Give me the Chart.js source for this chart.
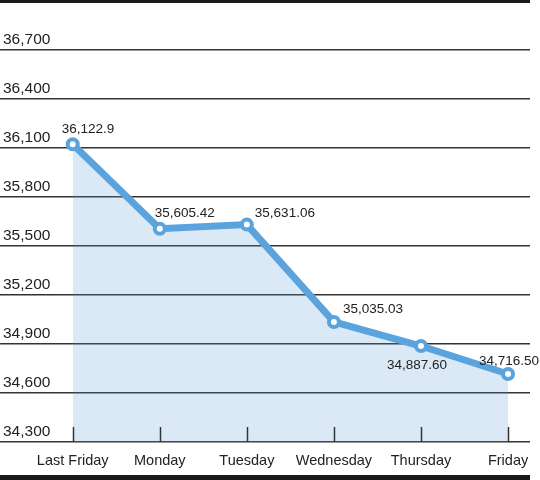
<!DOCTYPE html>
<html lang="en">
<head>
  <meta charset="utf-8">
  <title>Index close</title>
  <style>
    html, body { margin: 0; padding: 0; background: #fff; }
    #chart { display: block; }
  </style>
</head>
<body>

  <canvas id="chart" width="540" height="480"></canvas>

  <script src="https://cdn.jsdelivr.net/npm/chart.js@4/dist/chart.umd.min.js"></script>
  <script>

    // data
    var days = ["Last Friday", "Monday", "Tuesday", "Wednesday", "Thursday", "Friday"];
    var closes = [36122.9, 35605.42, 35631.06, 35035.03, 34887.60, 34716.50];
    var decimals = [1, 2, 2, 2, 2, 2];
    var yMin = 34300, yMax = 36700, yStep = 300;

    // where each value label sits relative to its point (style only)
    var labelShift = [[-11, -15], [-5, -16], [8, -11], [9, -13], [-34, 19], [-29, -13]];

    var font = "'Liberation Sans', Arial, sans-serif";
    var ink = "#222";
    var blue = "#5aa3dc";

    var points = closes.map(function (v, i) { return { x: i, y: v }; });

    // black bars top and bottom, small tick marks on the baseline, value labels
    var decor = {
      id: 'decor',
      beforeDraw: function (chart) {
        var ctx = chart.ctx;
        ctx.save();
        ctx.fillStyle = "#1a1a1a";
        ctx.fillRect(0, 0, 530, 3);
        ctx.fillRect(0, 475, 530, 5);
        ctx.restore();
      },
      afterDatasetsDraw: function (chart) {
        var ctx = chart.ctx;
        var xs = chart.scales.x, ys = chart.scales.y;
        var base = ys.getPixelForValue(yMin);
        ctx.save();
        ctx.strokeStyle = "#333";
        ctx.lineWidth = 1.5;
        days.forEach(function (d, i) {
          var px = Math.round(xs.getPixelForValue(i)) + 0.5;
          ctx.beginPath();
          ctx.moveTo(px, base);
          ctx.lineTo(px, base - 15);
          ctx.stroke();
        });
        ctx.restore();
      },
      afterDraw: function (chart) {
        var ctx = chart.ctx;
        var meta = chart.getDatasetMeta(0);
        ctx.save();
        ctx.fillStyle = ink;
        ctx.font = "13.5px " + font;
        ctx.textAlign = "left";
        ctx.textBaseline = "middle";
        meta.data.forEach(function (pt, i) {
          var txt = closes[i].toLocaleString('en-US', {
            minimumFractionDigits: decimals[i],
            maximumFractionDigits: decimals[i]
          });
          ctx.fillText(txt, pt.x + labelShift[i][0], pt.y + labelShift[i][1]);
        });
        ctx.restore();
      }
    };

    new Chart(document.getElementById('chart').getContext('2d'), {
      type: 'line',
      data: {
        datasets: [{
          data: points,
          borderColor: blue,
          borderWidth: 7,
          backgroundColor: "rgba(91,155,213,0.22)",
          fill: 'start',
          tension: 0,
          pointRadius: 5,
          pointHoverRadius: 5,
          pointBorderWidth: 4,
          pointBorderColor: blue,
          pointBackgroundColor: "#fff"
        }]
      },
      options: {
        responsive: false,
        animation: false,
        devicePixelRatio: 1,
        layout: { autoPadding: false, padding: { top: 50, right: 10, left: 0, bottom: 10 } },
        plugins: {
          legend: { display: false },
          tooltip: { enabled: false }
        },
        scales: {
          x: {
            type: 'linear',
            min: -0.835,
            max: 5.252,
            afterBuildTicks: function (s) {
              s.ticks = days.map(function (d, i) { return { value: i }; });
            },
            afterFit: function (s) { s.height = 28; },
            grid: { display: false },
            border: { display: false },
            ticks: {
              color: ink,
              font: { family: font, size: 14.5 },
              padding: 2,
              maxRotation: 0,
              autoSkip: false,
              callback: function (v) { return days[v]; }
            }
          },
          y: {
            min: yMin,
            max: yMax,
            afterFit: function (s) { s.width = 0; },
            border: { display: false },
            grid: { color: "#333", lineWidth: 1.5, drawTicks: false },
            ticks: {
              stepSize: yStep,
              mirror: true,
              padding: 3,
              labelOffset: -10,
              color: ink,
              font: { family: font, size: 15.5 }
            }
          }
        }
      },
      plugins: [decor]
    });

  </script>
</body>
</html>
